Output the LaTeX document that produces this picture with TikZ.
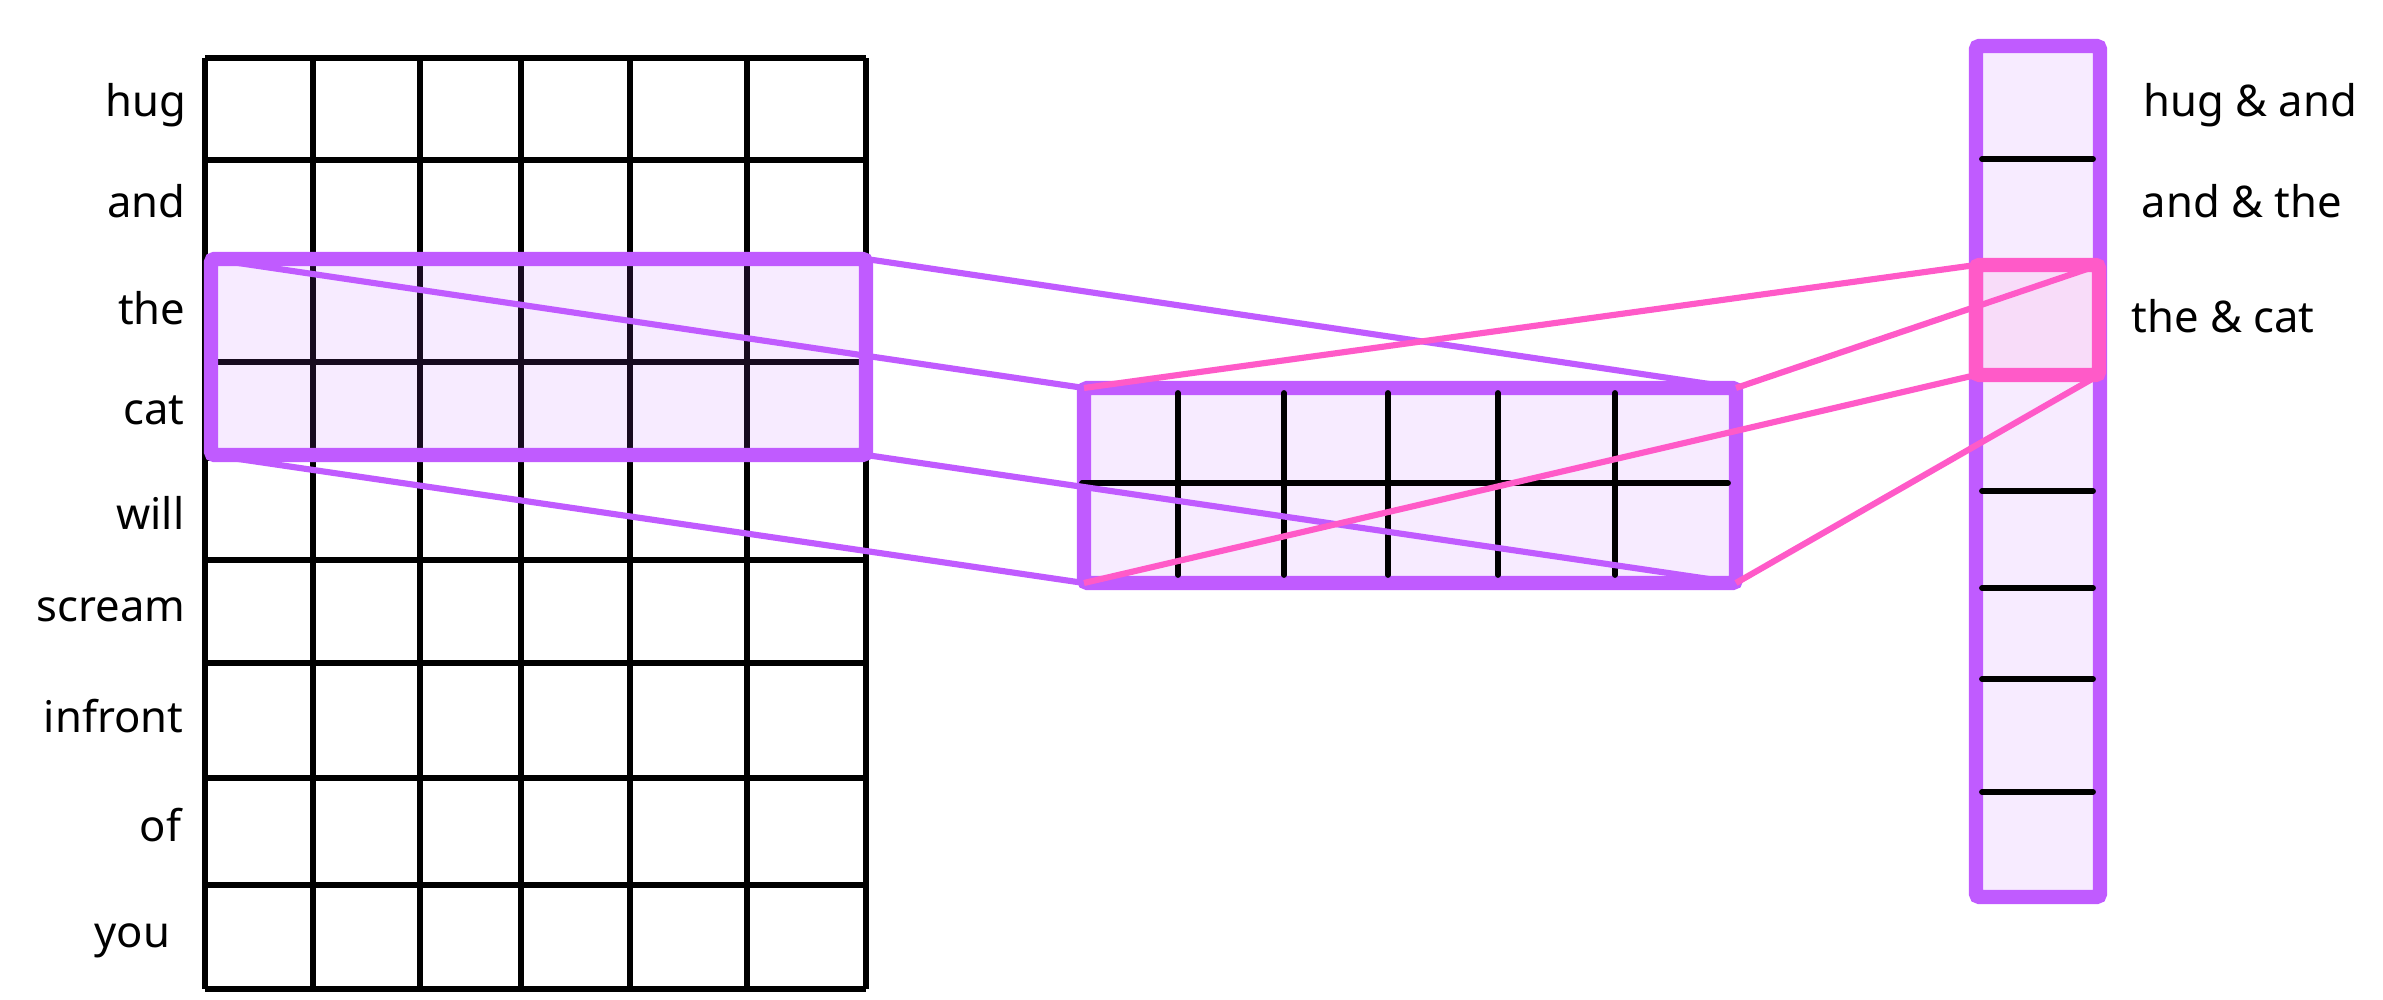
\documentclass[tikz,border=0pt]{standalone}
\usepackage{fontspec}
\setmainfont{Noto Sans}
\usepackage{xcolor}
\usepackage{tikz}
\usetikzlibrary{positioning}
\definecolor{windowpurple}{HTML}{C05BFF}
\definecolor{cellpink}{HTML}{FF5AC8}
\tikzset{
	% The words of the sentence
	word/.style={
		font=\fontsize{12.4}{15}\selectfont,anchor=base east,inner sep=0pt
	},
	% The word pairs next to the output
	pair/.style={
		font=\fontsize{12.4}{15}\selectfont,anchor=base west,inner sep=0pt
	},
	% The lines of the embedding matrix
	cell_line/.style={
		draw=black,line width=1.6pt
	},
	% The lines inside the filter and the output
	inner_line/.style={
		draw=black,line width=1.65pt,line cap=round
	},
	% The sliding window and the filter
	window/.style={
		draw=windowpurple,rectangle,line width=4.1pt,rounded corners=1pt,
		fill=windowpurple,fill opacity=.12,inner sep=0pt,outer sep=0pt
	},
	% The one output cell
	out_cell/.style={
		draw=cellpink,rectangle,line width=4.1pt,rounded corners=1pt,
		fill=cellpink,fill opacity=.1,inner sep=0pt,outer sep=0pt
	},
	% Window to filter
	window_edge/.style={
		draw=windowpurple,line width=1.75pt
	},
	% Filter to output cell
	cell_edge/.style={
		draw=cellpink,line width=1.75pt
	},
}
\begin{document}
\begin{tikzpicture}
		\useasboundingbox (0,0) rectangle (23.83,10);

		% Words
		\node [word] (hug) at (1.87,8.83) {hug};
		\node [word] (and) at (1.86,7.82) {and};
		\node [word] (the) at (1.86,6.75) {the};
		\node [word] (cat) at (1.85,5.75) {cat};
		\node [word] (will) at (1.85,4.70) {will};
		\node [word] (scream) at (1.86,3.78) {scream};
		\node [word] (infront) at (1.84,2.67) {infront};
		\node [word] (of) at (1.82,1.58) {of};
		\node [word] (you) at (1.71,0.52) {you};

		% Embedding matrix
		\draw [cell_line] (2.05,9.42) -- (8.66,9.42) (2.05,8.40) -- (8.66,8.40)
			(2.05,7.40) -- (8.66,7.40) (2.05,6.38) -- (8.66,6.38)
			(2.05,5.42) -- (8.66,5.42) (2.05,4.40) -- (8.66,4.40)
			(2.05,3.37) -- (8.66,3.37) (2.05,2.22) -- (8.66,2.22)
			(2.05,1.15) -- (8.66,1.15) (2.05,0.11) -- (8.66,0.11);
		\draw [cell_line] (2.05,0.11) -- (2.05,9.42) (3.13,0.11) -- (3.13,9.42)
			(4.20,0.11) -- (4.20,9.42) (5.21,0.11) -- (5.21,9.42)
			(6.30,0.11) -- (6.30,9.42) (7.47,0.11) -- (7.47,9.42)
			(8.66,0.11) -- (8.66,9.42);

		% Window, filter and output
		\node [window, minimum width=6.55cm, minimum height=1.96cm] (Window) at (5.385,6.43) {};
		\node [window, minimum width=6.52cm, minimum height=1.95cm] (Filter) at (14.10,5.145) {};
		\node [window, minimum width=1.24cm, minimum height=8.51cm] (Output) at (20.38,5.285) {};
		\node [out_cell, minimum width=1.23cm, minimum height=1.10cm] (Cell) at (20.375,6.80) {};

		% Filter lines
		\draw [inner_line] (10.82,5.17) -- (17.28,5.17);
		\draw [inner_line] (11.78,4.25) -- (11.78,6.07) (12.84,4.25) -- (12.84,6.07)
			(13.88,4.25) -- (13.88,6.07) (14.98,4.25) -- (14.98,6.07)
			(16.15,4.25) -- (16.15,6.07);

		% Output lines
		\draw [inner_line] (19.82,8.41) -- (20.93,8.41) (19.82,5.09) -- (20.93,5.09)
			(19.82,4.12) -- (20.93,4.12) (19.82,3.21) -- (20.93,3.21)
			(19.82,2.08) -- (20.93,2.08);

		% Pairs
		\node [pair] (hug and) at (21.43,8.83) {hug \& and};
		\node [pair] (and the) at (21.41,7.82) {and \& the};
		\node [pair] (the cat) at (21.31,6.67) {the \& cat};

		\draw [window_edge] (Window.north west) -- (Filter.north west);
		\draw [window_edge] (Window.north east) -- (Filter.north east);
		\draw [window_edge] (Window.south west) -- (Filter.south west);
		\draw [window_edge] (Window.south east) -- (Filter.south east);
		\draw [cell_edge] (Filter.north west) -- (Cell.north west);
		\draw [cell_edge] (Filter.north east) -- (Cell.north east);
		\draw [cell_edge] (Filter.south west) -- (Cell.south west);
		\draw [cell_edge] (Filter.south east) -- (Cell.south east);
	\end{tikzpicture}
\end{document}
